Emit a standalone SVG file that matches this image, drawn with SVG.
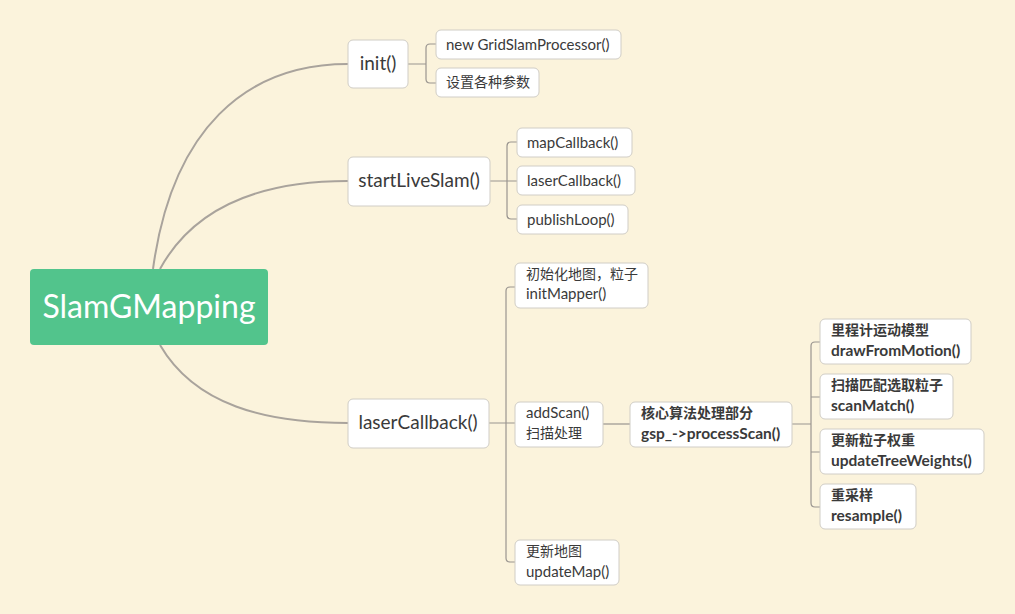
<svg xmlns="http://www.w3.org/2000/svg" width="1015" height="614" viewBox="0 0 1015 614">
<style>
text{font-family:Lato,"Noto Sans CJK SC",sans-serif;fill:#3a3a3a}
.box{fill:#fff;stroke:#d0cdc6;stroke-width:1}
.t1{font-size:19px;text-anchor:middle}
.t2{font-size:14px}
.la{font-size:15px}
.b{font-weight:bold}
.lb{font-size:15.5px;font-weight:bold}
.c{fill:none;stroke:#a9a39c;stroke-width:2}
.l{fill:none;stroke:#9a9590;stroke-width:1.2}
</style>
<rect width="1015" height="614" fill="#fbf3dc"/>
<g id="connectors">
<path class="c" d="M153,269 C172,130 245,64 348,64"/>
<path class="c" d="M160,269 C195,205 265,181 348,181"/>
<path class="c" d="M160,345 C195,405 265,423 348,423"/>
<path class="l" d="M408,64 H426 M436,44 H430 Q426,44 426,48 V79 Q426,83 430,83 H436"/>
<path class="l" d="M490,181 H517 M517,142 H511 Q507,142 507,146 V215 Q507,219 511,219 H517"/>
<path class="l" d="M489,423 H515 M515,287 H510 Q506,287 506,291 V558 Q506,562 510,562 H515"/>
<path class="l" d="M603,424 H630"/>
<path class="l" d="M792,424 H811 M820,342 H815 Q811,342 811,346 V503 Q811,507 815,507 H820 M811,397 H820 M811,452 H820"/>
</g>
<g id="root">
<rect x="30" y="269" width="238" height="76" rx="4" fill="#52c48c"/>
<text x="149" y="318" style="font-size:32px;fill:#fff;text-anchor:middle">SlamGMapping</text>
</g>
<g id="init">
<rect class="box" x="348" y="40" width="60" height="48" rx="5"/>
<text class="t1" x="378" y="70">init()</text>
</g>
<g id="startLiveSlam">
<rect class="box" x="348" y="157" width="142" height="49" rx="5"/>
<text class="t1" x="419" y="187">startLiveSlam()</text>
</g>
<g id="laserCallbackMain">
<rect class="box" x="348" y="399" width="141" height="49" rx="5"/>
<text class="t1" x="418" y="429">laserCallback()</text>
</g>
<g id="newGSP">
<rect class="box" x="436" y="30" width="185" height="29" rx="5"/>
<text class="la" x="446" y="50">new GridSlamProcessor()</text>
</g>
<g id="params">
<rect class="box" x="436" y="68" width="103" height="29" rx="5"/>
<text class="t2" x="446" y="87">设置各种参数</text>
</g>
<g id="mapCallback">
<rect class="box" x="517" y="128" width="115" height="29" rx="5"/>
<text class="la" x="527" y="148">mapCallback()</text>
</g>
<g id="laserCallback">
<rect class="box" x="517" y="166" width="118" height="29" rx="5"/>
<text class="la" x="527" y="186">laserCallback()</text>
</g>
<g id="publishLoop">
<rect class="box" x="517" y="205" width="111" height="29" rx="5"/>
<text class="la" x="527" y="225">publishLoop()</text>
</g>
<g id="initMapper">
<rect class="box" x="515" y="263" width="133" height="45" rx="5"/>
<text class="t2" x="526" y="279">初始化地图，粒子</text>
<text class="la" x="526" y="299">initMapper()</text>
</g>
<g id="addScan">
<rect class="box" x="515" y="402" width="88" height="45" rx="5"/>
<text class="la" x="526" y="418">addScan()</text>
<text class="t2" x="526" y="438">扫描处理</text>
</g>
<g id="updateMap">
<rect class="box" x="515" y="540" width="104" height="45" rx="5"/>
<text class="t2" x="526" y="556">更新地图</text>
<text class="la" x="526" y="577">updateMap()</text>
</g>
<g id="processScan">
<rect class="box" x="630" y="402" width="162" height="45" rx="5"/>
<text class="t2 b" x="641" y="418">核心算法处理部分</text>
<text class="lb" x="641" y="439">gsp_-&gt;processScan()</text>
</g>
<g id="drawFromMotion">
<rect class="box" x="820" y="319" width="151" height="45" rx="5"/>
<text class="t2 b" x="831" y="335">里程计运动模型</text>
<text class="lb" x="831" y="356">drawFromMotion()</text>
</g>
<g id="scanMatch">
<rect class="box" x="820" y="374" width="133" height="45" rx="5"/>
<text class="t2 b" x="831" y="390">扫描匹配选取粒子</text>
<text class="lb" x="831" y="411">scanMatch()</text>
</g>
<g id="updateTreeWeights">
<rect class="box" x="820" y="429" width="164" height="45" rx="5"/>
<text class="t2 b" x="831" y="445">更新粒子权重</text>
<text class="lb" x="831" y="466">updateTreeWeights()</text>
</g>
<g id="resample">
<rect class="box" x="820" y="484" width="96" height="45" rx="5"/>
<text class="t2 b" x="831" y="500">重采样</text>
<text class="lb" x="831" y="521">resample()</text>
</g>
</svg>
